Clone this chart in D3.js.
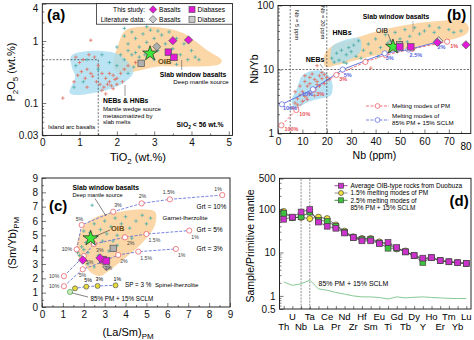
<!DOCTYPE html>
<html><head><meta charset="utf-8">
<script src="https://cdn.jsdelivr.net/npm/d3@7"></script>
<style>body{margin:0;background:#fff}svg{display:block;font-family:"Liberation Sans",Arial,sans-serif}</style>
</head><body><svg id="c" width="474" height="340"></svg>
<script>
// ---------------- DATA ----------------
// Panel (a): TiO2 vs P2O5
const aBlueRegion = [[0.79,0.59],[1.99,0.63],[2.44,0.32],[2.17,0.21],[1.55,0.152],[0.74,0.144],[0.88,0.266],[0.79,0.385]];
const aOrangeRegion = [[1.90,0.437],[1.99,0.716],[2.22,1.47],[2.62,1.70],[3.15,1.66],[3.78,1.33],[4.41,0.716],[4.81,0.49],[4.76,0.425],[3.87,0.385],[3.07,0.385],[2.44,0.32],[1.99,0.32]];
const aArcRed = [[0.9,0.55],[1.0,0.45],[1.1,0.5],[1.2,0.35],[1.3,0.3],[1.4,0.55],[1.5,0.4],[1.6,0.3],[1.7,0.25],[1.8,0.22],[1.9,0.28],[2.0,0.2],[1.55,0.2],[1.65,0.18],[1.75,0.2],[1.85,0.19],[1.95,0.24],[2.1,0.3],[2.2,0.35],[1.45,0.22],[1.35,0.27],[1.15,0.25],[1.05,0.32],[0.95,0.28],[1.25,0.6],[1.6,0.16],[1.7,0.14],[2.3,0.4],[2.5,0.45],[1.3,1.03],[0.55,0.12],[1.8,0.3],[2.0,0.25],[2.15,0.22],[1.9,0.17],[1.2,0.18],[0.85,0.22]];
const aSlabTeal = [[2.2,1.2],[2.3,0.9],[2.4,1.4],[2.5,1.1],[2.6,0.8],[2.7,1.3],[2.8,0.95],[2.9,1.5],[3.0,1.1],[3.1,0.7],[3.2,1.25],[3.3,0.9],[3.4,1.4],[3.5,0.75],[3.6,1.1],[3.7,0.6],[3.8,0.9],[3.9,0.5],[4.0,0.7],[4.1,0.55],[4.2,0.5],[2.1,0.6],[2.2,0.5],[2.4,0.6],[2.6,0.55],[2.3,0.7],[2.5,0.65],[2.0,0.8],[2.75,0.6],[3.0,0.5],[3.3,0.45],[3.6,0.42],[1.6,0.6],[1.2,0.5],[0.9,0.4],[1.1,0.22],[1.5,0.35],[2.0,0.4],[1.8,0.45],[2.3,0.3],[2.45,0.38],[0.85,0.18],[2.2,1.6],[2.8,1.7],[3.1,1.45]];
const aOIB = [2.89,0.63];
const aStudyBasalts = [[3.5,1.01],[3.92,1.04]];
const aStudyDiabases = [[3.38,0.66],[3.53,0.545]];
const aLitBasalts = [[3.07,0.81]];
const aLitDiabases = [[2.65,0.437]];
const aXTicks = [0,1,2,3,4,5];
const aYTicks = [0.03,0.1,1,4];

// Panel (b): Nb vs Nb/Yb
const bNEBRegion = [[5.7,3.34],[7.8,5.08],[9.8,7.92],[13.9,9.58],[19,9.24],[22.1,6.45],[21.7,3.99],[18,3.55],[12.6,3.14],[8.5,2.62],[6.2,2.69]];
const bHNBRegion = [[22.1,22.7],[25.6,27.2],[30.3,30.7],[33.5,30.7],[34,20.2],[31.7,15.9],[24.2,12.5],[22.1,13.2]];
const bSlabRegion = [[19.0,16.9],[22.8,24.1],[29.6,28.9],[37.8,36.8],[47.4,45.6],[58.3,53.8],[67.9,57.9],[75.4,57.9],[78.1,46.7],[77.5,36.8],[67.9,27.2],[57,22.7],[46,19.0],[37.8,15.9],[29.6,13.2],[24.2,11.8],[19.4,11.1]];
const bNEBRed = [[6,2.5],[7,3],[8,3.5],[9,4],[10,4.5],[11,3.8],[12,5.5],[13,6],[14,5],[15,7],[16,6.5],[17,8],[18,7.2],[19,6],[9,5.5],[11,6.5],[13,4.2],[15,4.8],[16,5.8],[12,3.4],[10,3.2],[8,2.8],[14,8.5],[18,9],[17,5.5],[20,7.5],[19,8.3],[21,7],[11,8],[13,7.5],[7,4.5],[15,3.9],[16,11.5],[36,13],[38,10.5]];
const bSlabTeal = [[22,15],[24,18],[25,14],[26,20],[27,13],[28,17],[29,22],[30,19],[31,24],[32,16],[33,28],[23,13],[28,12.5],[35,20],[37,25],[40,30],[42,22],[44,35],[45,26],[48,38],[50,30],[52,42],[54,33],[56,45],[58,36],[60,40],[62,48],[64,38],[66,45],[70,42],[72,38],[75,40],[46,28],[53,27],[38,18],[41,16],[34,15],[36,14]];
const bPMNb = [1.4,7.5,14.5,23.9,35.8,44,55,69.3];
const bPMRatio = [1.34,2.33,4.8,8.2,13.1,16.8,21,27.2];
const bPMLabels = ["100%","10%","3%","3%","","","","1%"];
const bMixNb = [1.6,14.3,26.5,43.7,53.5,64.9];
const bMixRatio = [2.86,4.9,10,17.9,20.5,26.6];
const bMixLabels = ["100%","10%","5%","3%","2.5%","2%"];
const bOIB = [47.1,22.7];
const bStudyBasalts = [[65.3,26.5],[77,24.3]];
const bStudyDiabases = [[49.9,22.6],[54.4,22.6]];
const bLitBasalts = [[65.8,28]];
const bLitDiabases = [[49.8,24.4]];
const bXTicks = [0,10,20,30,40,50,60,70,80];
const bYTicks = [1,10,100];

// Panel (c): (La/Sm)PM vs (Sm/Yb)PM
const cSlabRegion = [[1.66,4.33],[1.98,5.60],[2.62,6.30],[3.73,6.65],[4.85,6.81],[5.41,6.65],[5.41,5.72],[4.85,4.56],[4.05,3.51],[3.25,2.58],[2.78,2.16],[2.38,2.35],[1.98,3.05],[1.69,3.63]];
const cSlabTeal = [[2.0,4.0],[2.1,4.5],[2.2,3.8],[2.3,5.2],[2.4,4.4],[2.5,5.8],[2.6,4.9],[2.7,3.6],[2.8,5.4],[2.9,4.6],[3.0,6.0],[3.1,5.1],[3.2,3.9],[3.3,5.6],[3.4,4.6],[3.5,6.2],[3.6,5.0],[3.8,5.8],[4.0,6.3],[4.2,5.5],[4.5,6.0],[4.8,6.4],[5.0,5.8],[5.2,6.2],[1.8,3.6],[1.9,4.2],[2.2,3.0],[2.5,2.8],[2.4,7.1],[2.9,3.2],[3.6,4.3],[4.3,4.8],[2.0,5.3],[1.7,3.8]];
const cMeltLabels = ["10%","5%","3%","2%","1.5%","1%"];
const cGrt10X = [1.66,1.90,3.41,4.77,6.12,8.63];
const cGrt10Y = [4.02,5.72,6.65,7.23,7.51,7.81];
const cGrt5X = [1.05,2.0,2.49,3.97,5.0,7.05];
const cGrt5Y = [2.15,3.55,4.4,4.86,5.09,5.33];
const cGrt3X = [1.05,1.95,2.9,3.65,4.61,6.41];
const cGrt3Y = [1.45,2.63,3.15,3.63,3.86,4.05];
const cSpX = [1.58,2.12,2.66,3.52];
const cSpY = [1.3,1.42,1.47,1.51];
const cSpLabels = ["","5%","3%","1%"];
const cSource = [1.34,1.05];
const cOIB = [2.33,4.79];
const cStudyBasalts = [[1.95,3.28],[2.78,3.42]];
const cStudyDiabases = [[2.92,3.3],[3.08,3.22]];
const cLitBasalts = [[3.09,2.81]];
const cLitDiabases = [[3.41,4.09]];
const cTicks = [0,1,2,3,4,5,6,7,8,9];

// Panel (d): spider diagram
const elements = ["Th","U","Nb","Ta","La","Ce","Pr","Nd","Zr","Hf","Sm","Eu","Ti","Gd","Tb","Dy","Y","Ho","Er","Tm","Yb","Lu"];
const dOIBAvg = [58,65,85,97,50,40,36,28,22,18.5,18.5,16,17,13,10.3,8.5,7.4,7.6,6.5,6.1,5.8,5.6];
const dPM15 = [88,63,64,60,65,60,43,31,23,21,21,17.5,15.5,12,10.8,8.4,7.0,7.6,6.5,6.1,5.8,5.6];
const dMix25 = [80,63,66,85,55,52,40,29,22,20,20,16.5,12.5,12.5,10.3,8.4,5.9,7.6,6.5,6.1,5.8,5.6];
const dSource = [2.1,1.75,1.9,2.3,1.45,1.35,1.2,1.1,1.0,0.95,0.95,0.92,0.85,0.95,0.9,0.93,0.95,0.92,0.9,0.88,0.87,0.87];
const dYTicks = [0.5,1,10,100,500];

// ---------------- DRAWING ----------------
const svg = d3.select("#c");
const ORANGE = "#fbd4a2", BLUE = "#a9ddf0", TEAL = "#4eaeaa", RED = "#e0705f",
      MAG = "#e21ad8", GREY = "#b0b0b0", CRED = "#e8505a", CBLUE = "#5566dd";

function T(g, x, y, s, size, o = {}) {
  const t = g.append("text").attr("x", x).attr("y", y).attr("font-size", size).text(s);
  if (o.bold) t.attr("font-weight", "bold");
  if (o.anchor) t.attr("text-anchor", o.anchor);
  if (o.fill) t.attr("fill", o.fill);
  if (o.rot) t.attr("transform", `rotate(${o.rot},${x},${y})`);
  return t;
}
function richT(g, x, y, parts, size, o = {}) {
  const t = g.append("text").attr("x", x).attr("y", y).attr("font-size", size);
  if (o.anchor) t.attr("text-anchor", o.anchor);
  if (o.bold) t.attr("font-weight", "bold");
  if (o.rot) t.attr("transform", `rotate(${o.rot},${x},${y})`);
  let cur = 0;
  parts.forEach(([s, sub]) => {
    const off = sub ? size * 0.3 : 0;
    t.append("tspan").attr("dy", off - cur).attr("font-size", sub ? size * 0.72 : size).text(s);
    cur = off;
  });
  return t;
}
function crosses(g, pts, x, y, color, s = 1.8) {
  g.append("g").selectAll("path").data(pts).join("path")
    .attr("d", d => `M${x(d[0]) - s},${y(d[1])}H${x(d[0]) + s}M${x(d[0])},${y(d[1]) - s}V${y(d[1]) + s}`)
    .attr("stroke", color).attr("stroke-width", 0.8);
}
function region(g, pts, x, y, fill, op = 0.9) {
  g.append("path").datum(pts)
    .attr("d", d3.line().x(d => x(d[0])).y(d => y(d[1])).curve(d3.curveCatmullRomClosed.alpha(0.5)))
    .attr("fill", fill).attr("opacity", op);
}
function marker(g, type, cx, cy, r, fill, stroke = "#333") {
  let p;
  if (type === "sq") p = g.append("rect").attr("x", cx - r).attr("y", cy - r).attr("width", 2 * r).attr("height", 2 * r);
  else if (type === "di") p = g.append("path").attr("d", `M${cx},${cy - r * 1.25}L${cx + r * 1.25},${cy}L${cx},${cy + r * 1.25}L${cx - r * 1.25},${cy}Z`);
  else if (type === "ci") p = g.append("circle").attr("cx", cx).attr("cy", cy).attr("r", r);
  else if (type === "star") p = g.append("path").attr("d", d3.symbol(d3.symbolStar, r * r * 3.2)()).attr("transform", `translate(${cx},${cy})`);
  p.attr("fill", fill).attr("stroke", stroke).attr("stroke-width", 0.7);
  return p;
}
function axes(g, x, y, xMajor, xMinor, yMajor, yMinor, xFmt, yFmt) {
  const [x0, x1] = x.range(), [y0, y1] = y.range();
  const style = a => { a.select(".domain").remove(); a.selectAll("text").attr("font-size", 10).attr("fill", "#111").attr("font-family", '"Liberation Sans", Arial, sans-serif'); a.selectAll("line").attr("stroke", "#222").attr("stroke-width", 0.6); };
  if (xMajor) {
    g.append("g").attr("transform", `translate(0,${y0})`).call(d3.axisBottom(x).tickValues(xMajor).tickSizeInner(-4).tickSizeOuter(0).tickPadding(4).tickFormat(xFmt)).call(style);
    g.append("g").attr("transform", `translate(0,${y0})`).call(d3.axisBottom(x).tickValues(xMinor).tickSizeInner(-2).tickSizeOuter(0).tickFormat("")).call(style);
  }
  const ya = g.append("g").attr("transform", `translate(${x0},0)`).call(d3.axisLeft(y).tickValues(yMajor).tickSizeInner(-4).tickSizeOuter(0).tickPadding(4).tickFormat(yFmt)).call(style);
  g.append("g").attr("transform", `translate(${x0},0)`).call(d3.axisLeft(y).tickValues(yMinor).tickSizeInner(-2).tickSizeOuter(0).tickFormat("")).call(style);
  g.append("rect").attr("x", x0).attr("y", Math.min(y0, y1)).attr("width", x1 - x0).attr("height", Math.abs(y0 - y1))
    .attr("fill", "none").attr("stroke", "#111").attr("stroke-width", 0.9);
  return ya;
}
function logMinor(lo, hi) {
  const out = [];
  for (let e = -2; e <= 3; e++) for (let m = 2; m <= 9; m++) { const v = m * Math.pow(10, e); if (v > lo && v < hi) out.push(+v.toPrecision(3)); }
  return out;
}
const dash = "2,1.5";

// ===== Panel (a) =====
{
  const g = svg.append("g");
  const x = d3.scaleLinear().domain([0, 5.1]).range([42.3, 232.5]);
  const y = d3.scaleLog().domain([0.03, 4]).range([135.4, 3.7]);
  region(g, aOrangeRegion, x, y, ORANGE, 0.95);
  region(g, aBlueRegion, x, y, BLUE, 0.8);
  g.append("path").attr("d", `M${x(0)},${y(0.5)}H${x(1.5)}V${y(0.03)}`).attr("fill", "none").attr("stroke", "#333").attr("stroke-width", 0.7).attr("stroke-dasharray", dash);
  crosses(g, aSlabTeal, x, y, TEAL);
  crosses(g, aArcRed, x, y, RED);
  aLitDiabases.forEach(d => marker(g, "sq", x(d[0]), y(d[1]), 3.2, GREY, "#555"));
  aLitBasalts.forEach(d => marker(g, "di", x(d[0]), y(d[1]), 3.2, GREY, "#555"));
  marker(g, "star", x(aOIB[0]), y(aOIB[1]), 4.6, "#3ee83a", "#222");
  aStudyDiabases.forEach(d => marker(g, "sq", x(d[0]), y(d[1]), 3.3, MAG, "#555"));
  aStudyBasalts.forEach(d => marker(g, "di", x(d[0]), y(d[1]), 3.3, MAG, "#555"));
  const ya = axes(g, x, y, aXTicks, d3.range(0.5, 5.1, 1), aYTicks, logMinor(0.03, 4), d3.format("d"), d => d);
  ya.selectAll(".tick text").filter(d => d === 4).attr("dy", "0.75em");
  T(g, 158, 64, "OIB", 7.5, { bold: true, fill: "#6a4a10" });
  T(g, 193, 76.5, "Slab window basalts", 6.8, { bold: true, anchor: "middle" });
  T(g, 201, 83.5, "Deep mantle source", 6.2, { anchor: "middle" });
  g.append("line").attr("x1", 181.7).attr("x2", 181.7).attr("y1", 60).attr("y2", 70).attr("stroke", "#555").attr("stroke-width", 0.6);
  T(g, 103, 103, "NEBs & HNBs", 6.8, { bold: true });
  T(g, 103, 111, "Mantle wedge source", 6.1);
  T(g, 103, 117.5, "metasomatized by", 6.1);
  T(g, 103, 124, "slab melts", 6.1);
  g.append("line").attr("x1", 125).attr("x2", 125).attr("y1", 85).attr("y2", 96).attr("stroke", "#555").attr("stroke-width", 0.6);
  T(g, 48, 128.5, "Island arc basalts", 6.1);
  richT(g, 176.5, 126.5, [["SiO", 0], ["2", 1], [" < 56 wt.%", 0]], 6.8, { bold: true });
  T(g, 47, 20, "(a)", 15, { bold: true });
  // legend
  g.append("rect").attr("x", 96.5).attr("y", 3.7).attr("width", 136).attr("height", 20.5).attr("fill", "#fff").attr("stroke", "#111").attr("stroke-width", 0.7);
  T(g, 145, 11.8, "This study:", 6.6, { anchor: "end" });
  T(g, 145, 21.5, "Literature data:", 6.6, { anchor: "end" });
  marker(g, "di", 153, 9.5, 3, MAG, "#555"); T(g, 159, 11.8, "Basalts", 6.6);
  marker(g, "sq", 192, 9.5, 3, MAG, "#555"); T(g, 197.5, 11.8, "Diabases", 6.6);
  marker(g, "di", 153, 19.3, 3, "#ccc", "#555"); T(g, 159, 21.5, "Basalts", 6.6);
  marker(g, "sq", 192, 19.3, 3, "#ccc", "#555"); T(g, 197.5, 21.5, "Diabases", 6.6);
  richT(g, 138, 161, [["TiO", 0], ["2", 1], [" (wt.%)", 0]], 11, { anchor: "middle" });
  richT(g, 15, 72, [["P", 0], ["2", 1], ["O", 0], ["5", 1], [" (wt.%)", 0]], 11, { anchor: "middle", rot: -90 });
}

// ===== Panel (b) =====
{
  const g = svg.append("g");
  const x = d3.scaleLinear().domain([0, 79]).range([278, 470.8]);
  const y = d3.scaleLog().domain([1, 100]).range([133.5, 5.5]);
  region(g, bSlabRegion, x, y, ORANGE, 0.95);
  region(g, bNEBRegion, x, y, BLUE, 0.85);
  region(g, bHNBRegion, x, y, BLUE, 0.8);
  [5, 20].forEach(v => g.append("line").attr("x1", x(v)).attr("x2", x(v)).attr("y1", y(1)).attr("y2", y(100)).attr("stroke", "#333").attr("stroke-width", 0.7).attr("stroke-dasharray", dash));
  g.append("line").attr("x1", x(0)).attr("x2", x(79)).attr("y1", y(10)).attr("y2", y(10)).attr("stroke", "#333").attr("stroke-width", 0.7).attr("stroke-dasharray", dash);
  T(g, x(5) + 5, 10, "Nb = 5 ppm", 5.8, { rot: 90 });
  T(g, x(20) - 6, 6, "Nb = 20 ppm", 5.8, { rot: 90 });
  crosses(g, bSlabTeal, x, y, TEAL);
  crosses(g, bNEBRed, x, y, RED);
  const ln = d3.line();
  g.append("path").attr("d", ln(bPMNb.map((v, i) => [x(v), y(bPMRatio[i])]))).attr("fill", "none").attr("stroke", CRED).attr("stroke-width", 0.8).attr("stroke-dasharray", "3,1.5");
  g.append("path").attr("d", ln(bMixNb.map((v, i) => [x(v), y(bMixRatio[i])]))).attr("fill", "none").attr("stroke", CBLUE).attr("stroke-width", 0.9);
  bLitDiabases.forEach(d => marker(g, "sq", x(d[0]), y(d[1]), 3.2, GREY, "#555"));
  bLitBasalts.forEach(d => marker(g, "di", x(d[0]), y(d[1]), 3.4, "#ddd", "#555"));
  bPMNb.forEach((v, i) => {
    marker(g, "ci", x(v), y(bPMRatio[i]), 2.6, "#fff", CRED);
    if (bPMLabels[i]) T(g, x(v) + 3, y(bPMRatio[i]) + 6, bPMLabels[i], 5.5, { bold: true, fill: CRED });
  });
  bMixNb.forEach((v, i) => {
    marker(g, "ci", x(v), y(bMixRatio[i]), 2.6, "#fff", CBLUE);
    if (bMixLabels[i]) T(g, x(v) + (i === 1 ? -11 : 1), y(bMixRatio[i]) + (i === 0 ? 6 : 7), bMixLabels[i], 5.5, { bold: true, fill: CBLUE });
  });
  marker(g, "star", x(bOIB[0]), y(bOIB[1]), 4.6, "#3ee83a", "#222");
  bStudyDiabases.forEach(d => marker(g, "sq", x(d[0]), y(d[1]), 3.3, MAG, "#555"));
  bStudyBasalts.forEach(d => marker(g, "di", x(d[0]), y(d[1]), 3.3, MAG, "#555"));
  axes(g, x, y, bXTicks.slice(0, 8), d3.range(5, 79, 10), bYTicks, logMinor(1, 100), d3.format("d"), d => d);
  T(g, 466, 150, "80", 10, { anchor: "middle" });
  T(g, 342, 35, "HNBs", 7, { bold: true, anchor: "middle" });
  T(g, 315, 62, "NEBs", 7, { bold: true, anchor: "middle" });
  g.append("line").attr("x1", 320).attr("x2", 323).attr("y1", 64).attr("y2", 68).attr("stroke", "#444").attr("stroke-width", 0.5);
  T(g, 382, 33, "OIB", 7, { anchor: "middle" });
  g.append("line").attr("x1", 388).attr("x2", x(bOIB[0]) - 1).attr("y1", 34).attr("y2", y(bOIB[1]) - 3).attr("stroke", "#333").attr("stroke-width", 0.6);
  T(g, 396, 18.5, "Slab window basalts", 6.8, { bold: true, anchor: "middle" });
  g.append("line").attr("x1", 413).attr("x2", 413).attr("y1", 21).attr("y2", 32).attr("stroke", "#777").attr("stroke-width", 0.5);
  T(g, 447, 19.5, "(b)", 15, { bold: true });
  // legend
  g.append("line").attr("x1", 366).attr("x2", 389).attr("y1", 106).attr("y2", 106).attr("stroke", CRED).attr("stroke-width", 0.8).attr("stroke-dasharray", "3,1.5");
  marker(g, "ci", 377.5, 106, 2.4, "#fff", CRED);
  g.append("line").attr("x1", 366).attr("x2", 389).attr("y1", 120).attr("y2", 120).attr("stroke", CBLUE).attr("stroke-width", 0.8).attr("stroke-dasharray", "3,1.5");
  marker(g, "ci", 377.5, 120, 2.4, "#fff", CBLUE);
  T(g, 392, 108, "Melting modes of PM", 6.2);
  T(g, 392, 118, "Melting modes of", 6.2);
  T(g, 392, 125, "85% PM + 15% SCLM", 6.2);
  T(g, 374.5, 159, "Nb (ppm)", 10.5, { anchor: "middle" });
  T(g, 257.5, 69, "Nb/Yb", 10.5, { anchor: "middle", rot: -90 });
}

// ===== Panel (c) =====
{
  const g = svg.append("g");
  const x = d3.scaleLinear().domain([0, 9]).range([42, 230]);
  const y = d3.scaleLinear().domain([0, 9]).range([307, 178]);
  region(g, cSlabRegion, x, y, ORANGE, 0.95);
  crosses(g, cSlabTeal, x, y, TEAL);
  const ln = d3.line();
  const curves = [[cGrt10X, cGrt10Y], [cGrt5X, cGrt5Y], [cGrt3X, cGrt3Y]];
  curves.forEach(([X, Y]) => {
    g.append("path").attr("d", ln(X.map((v, i) => [x(v), y(Y[i])]))).attr("fill", "none").attr("stroke", CBLUE).attr("stroke-width", 0.8).attr("stroke-dasharray", "3,1.5");
  });
  g.append("path").attr("d", ln([[x(cSource[0]), y(cSource[1])], ...cSpX.map((v, i) => [x(v), y(cSpY[i])])])).attr("fill", "none").attr("stroke", CBLUE).attr("stroke-width", 0.8).attr("stroke-dasharray", "3,1.5");
  cLitDiabases.forEach(d => marker(g, "sq", x(d[0]), y(d[1]), 3.2, GREY, "#555"));
  cLitBasalts.forEach(d => marker(g, "di", x(d[0]), y(d[1]), 3.2, GREY, "#555"));
  const lblOff = [[-15, 2], [-6, -4], [1, -5], [-3, -5], [-7, -5], [-8, -4]];
  curves.forEach(([X, Y], k) => {
    X.forEach((v, i) => {
      marker(g, "ci", x(v), y(Y[i]), 2.6, "#fff", CRED);
      let o = k === 0 ? lblOff[i] : (i === 0 ? [-15, 2] : [2, 8]);
      if (k === 2 && i === 1) o = [-4, 8];
      T(g, x(v) + o[0], y(Y[i]) + o[1], cMeltLabels[i], 5.2, { fill: k === 0 ? "#333" : "#444" });
    });
  });
  cSpX.forEach((v, i) => {
    marker(g, "ci", x(v), y(cSpY[i]), 2.5, "#e8dc3a", "#555");
    if (cSpLabels[i]) T(g, x(v) - 2, y(cSpY[i]) - 4.5, cSpLabels[i], 5.2);
  });
  marker(g, "ci", x(cSource[0]), y(cSource[1]), 2.6, "#cfe8c0", "#4a4");
  g.append("line").attr("x1", x(cSource[0]) + 2).attr("y1", y(cSource[1]) + 1).attr("x2", 88).attr("y2", 297).attr("stroke", "#333").attr("stroke-width", 0.6);
  marker(g, "star", x(cOIB[0]), y(cOIB[1]), 4.8, "#3ee83a", "#222");
  cStudyDiabases.forEach(d => marker(g, "sq", x(d[0]), y(d[1]), 3.4, MAG, "#555"));
  cStudyBasalts.forEach(d => marker(g, "di", x(d[0]), y(d[1]), 3.4, MAG, "#555"));
  axes(g, x, y, cTicks, d3.range(0.5, 9, 1), cTicks, d3.range(0.5, 9, 1), d3.format("d"), d3.format("d"));
  T(g, 72.5, 190, "Slab window basalts", 6.8, { bold: true });
  T(g, 72.5, 196.5, "Deep mantle source", 5.6);
  g.append("line").attr("x1", 95).attr("y1", 198.5).attr("x2", 106).attr("y2", 216).attr("stroke", "#333").attr("stroke-width", 0.6);
  T(g, 111, 231, "OIB", 7.5, { bold: true, fill: "#6a4a10" });
  g.append("line").attr("x1", 110).attr("y1", 230).attr("x2", 96).attr("y2", 236).attr("stroke", "#333").attr("stroke-width", 0.6);
  T(g, 49, 211, "(c)", 15, { bold: true });
  T(g, 196.5, 208.5, "Grt = 10%", 6.6);
  T(g, 162.5, 219.5, "Garnet-lherzolite", 6.1);
  T(g, 196.5, 232, "Grt = 5%", 6.6);
  T(g, 196.5, 251, "Grt = 3%", 6.6);
  T(g, 125, 286.5, "SP = 3 %", 6.3);
  T(g, 155, 286.5, "Spinel-lherzolite", 6.1);
  T(g, 90.5, 300.5, "85% PM + 15% SCLM", 6.3);
  richT(g, 128, 336, [["(La/Sm)", 0], ["PM", 1]], 11, { anchor: "middle" });
  richT(g, 16, 243, [["(Sm/Yb)", 0], ["PM", 1]], 11, { anchor: "middle", rot: -90 });
}

// ===== Panel (d) =====
{
  const g = svg.append("g");
  const x = d3.scalePoint().domain(elements).range([283.7, 466.3]);
  const y = d3.scaleLog().domain([0.5, 500]).range([309, 178.6]);
  const ln = d3.line();
  ["Nb", "Ta"].forEach(e => g.append("line").attr("x1", x(e)).attr("x2", x(e)).attr("y1", y(0.5)).attr("y2", y(500)).attr("stroke", "#444").attr("stroke-width", 0.6).attr("stroke-dasharray", "2,1.2"));
  g.append("path").attr("d", ln(elements.map((e, i) => [x(e), y(dSource[i])]))).attr("fill", "none").attr("stroke", "#86c994").attr("stroke-width", 1);
  const series = [[dPM15, "ci", "#f2e43c"], [dMix25, "sq", "#3cc23c"], [dOIBAvg, "sq", "#cc33cc"]];
  series.forEach(([vals, type, col]) => {
    g.append("path").attr("d", ln(elements.map((e, i) => [x(e), y(vals[i])]))).attr("fill", "none").attr("stroke", "#333").attr("stroke-width", 0.7);
    elements.forEach((e, i) => marker(g, type, x(e), y(vals[i]), type === "ci" ? 3 : 2.9, col, "#444"));
  });
  const style = a => { a.select(".domain").remove(); a.selectAll("text").attr("font-size", 10).attr("fill", "#111").attr("font-family", '"Liberation Sans", Arial, sans-serif'); a.selectAll("line").attr("stroke", "#222").attr("stroke-width", 0.6); };
  g.append("g").attr("transform", "translate(279.5,0)").call(d3.axisLeft(y).tickValues(dYTicks).tickSizeInner(-4).tickSizeOuter(0).tickPadding(4).tickFormat(d => d)).call(style);
  g.append("g").attr("transform", "translate(279.5,0)").call(d3.axisLeft(y).tickValues(logMinor(0.5, 500)).tickSizeInner(-2).tickSizeOuter(0).tickFormat("")).call(style);
  g.append("g").attr("transform", "translate(0,309)").call(d3.axisBottom(x).tickSizeInner(-3).tickSizeOuter(0).tickFormat("")).call(style);
  g.append("rect").attr("x", 279.5).attr("y", 178.3).attr("width", 191.5).attr("height", 130.7).attr("fill", "none").attr("stroke", "#111").attr("stroke-width", 0.9);
  elements.forEach((e, i) => T(g, x(e), i % 2 ? 320 : 329.5, e, 9.5, { anchor: "middle" }));
  const ly = [185.7, 193, 200.3];
  const lt = ["Average OIB-type rocks from Duobuza", "1.5% melting modes of PM", "2.5% melting modes of"];
  const lm = [["sq", "#cc33cc", "#a030a0"], ["ci", "#f2e43c", "#888"], ["sq", "#3cc23c", "#2a8a2a"]];
  ly.forEach((yy, i) => {
    g.append("line").attr("x1", 334.5).attr("x2", 347.5).attr("y1", yy).attr("y2", yy).attr("stroke", lm[i][2]).attr("stroke-width", 0.9);
    marker(g, lm[i][0], 341, yy, 2.5, lm[i][1], "#444");
    T(g, 350.5, yy + 2.3, lt[i], 6.5);
  });
  T(g, 350.5, 209.5, "85% PM + 15% SCLM", 6.5);
  T(g, 449.5, 206, "(d)", 15, { bold: true });
  T(g, 318.5, 285.5, "85% PM + 15% SCLM", 7);
  T(g, 254, 246, "Sample/Primitive mantle", 10.5, { anchor: "middle", rot: -90 });
}
</script></body></html>
